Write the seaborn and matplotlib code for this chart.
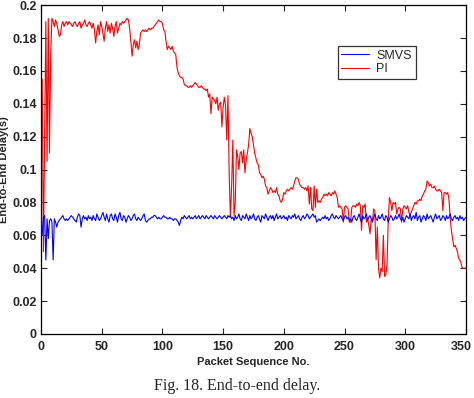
import numpy as np
import pandas as pd
import matplotlib
matplotlib.use("Agg")
import matplotlib.pyplot as plt
import matplotlib.transforms as mtransforms
import seaborn as sns

# packet sequence numbers 0..350
packet_no = list(range(0, 351))

# end-to-end delay (s), PI scheme
pi_delay = [
    0.135, 0.155, 0.050, 0.120, 0.190, 0.105, 0.192, 0.110, 0.170, 0.192,
    0.190, 0.187, 0.191, 0.189, 0.185, 0.181, 0.182, 0.188, 0.190, 0.187,
    0.189, 0.190, 0.188, 0.190, 0.189, 0.188, 0.187, 0.189, 0.190, 0.188,
    0.187, 0.189, 0.190, 0.186, 0.188, 0.189, 0.191, 0.188, 0.187, 0.189,
    0.190, 0.188, 0.186, 0.189, 0.185, 0.177, 0.184, 0.188, 0.182, 0.190,
    0.187, 0.183, 0.178, 0.186, 0.190, 0.184, 0.188, 0.183, 0.189, 0.186,
    0.181, 0.187, 0.190, 0.183, 0.186, 0.189, 0.188, 0.190, 0.189, 0.190,
    0.191, 0.192, 0.191, 0.186, 0.178, 0.169, 0.176, 0.179, 0.174, 0.178,
    0.173, 0.176, 0.183, 0.184, 0.185, 0.184, 0.185, 0.184, 0.185, 0.186,
    0.185, 0.186, 0.186, 0.187, 0.188, 0.189, 0.190, 0.191, 0.190, 0.190,
    0.189, 0.185, 0.184, 0.178, 0.173, 0.175, 0.174, 0.173, 0.175, 0.172,
    0.171, 0.170, 0.162, 0.159, 0.157, 0.156, 0.156, 0.155, 0.152, 0.151,
    0.151, 0.150, 0.150, 0.151, 0.150, 0.151, 0.152, 0.153, 0.152, 0.151,
    0.150, 0.150, 0.151, 0.150, 0.149, 0.149, 0.148, 0.149, 0.144, 0.146,
    0.134, 0.144, 0.143, 0.142, 0.140, 0.144, 0.136, 0.140, 0.141, 0.126,
    0.138, 0.144, 0.139, 0.118, 0.145, 0.097, 0.071, 0.090, 0.118, 0.072,
    0.080, 0.112, 0.108, 0.100, 0.110, 0.111, 0.104, 0.112, 0.098, 0.106,
    0.110, 0.115, 0.125, 0.122, 0.120, 0.115, 0.110, 0.107, 0.104, 0.103,
    0.098, 0.097, 0.095, 0.096, 0.094, 0.090, 0.089, 0.085, 0.087, 0.089,
    0.088, 0.086, 0.087, 0.086, 0.089, 0.085, 0.084, 0.081, 0.080, 0.082,
    0.086, 0.085, 0.087, 0.088, 0.087, 0.088, 0.089, 0.088, 0.090, 0.093,
    0.095, 0.095, 0.094, 0.091, 0.090, 0.089, 0.089, 0.088, 0.089, 0.087,
    0.090, 0.079, 0.089, 0.076, 0.075, 0.090, 0.077, 0.088, 0.080, 0.081,
    0.080, 0.082, 0.083, 0.085, 0.084, 0.085, 0.084, 0.086, 0.085, 0.084,
    0.086, 0.085, 0.087, 0.085, 0.083, 0.077, 0.078, 0.077, 0.076, 0.068,
    0.077, 0.078, 0.077, 0.076, 0.068, 0.068, 0.077, 0.078, 0.078, 0.077,
    0.079, 0.078, 0.080, 0.078, 0.063, 0.078, 0.077, 0.079, 0.068, 0.070,
    0.066, 0.061, 0.070, 0.069, 0.076, 0.075, 0.045, 0.065, 0.040, 0.034,
    0.040, 0.038, 0.060, 0.035, 0.036, 0.042, 0.069, 0.083, 0.080, 0.075,
    0.080, 0.079, 0.080, 0.073, 0.076, 0.077, 0.076, 0.068, 0.076, 0.078,
    0.077, 0.076, 0.078, 0.074, 0.072, 0.074, 0.076, 0.078, 0.080, 0.079,
    0.081, 0.081, 0.082, 0.081, 0.084, 0.085, 0.087, 0.088, 0.093, 0.092,
    0.090, 0.091, 0.089, 0.089, 0.090, 0.088, 0.087, 0.087, 0.088, 0.087,
    0.086, 0.075, 0.086, 0.086, 0.085, 0.086, 0.082, 0.071, 0.063, 0.058,
    0.053, 0.054, 0.052, 0.050, 0.046, 0.045, 0.043, 0.040, 0.040, 0.040,
    0.040,
]

# end-to-end delay (s), SMVS scheme
smvs_delay = [
    0.073, 0.060, 0.071, 0.072, 0.045, 0.070, 0.058, 0.069, 0.070, 0.068,
    0.045, 0.070, 0.068, 0.065, 0.068, 0.069, 0.070, 0.071, 0.072, 0.070,
    0.069, 0.070, 0.069, 0.070, 0.071, 0.072, 0.071, 0.070, 0.069, 0.068,
    0.071, 0.073, 0.072, 0.065, 0.070, 0.072, 0.070, 0.071, 0.069, 0.072,
    0.070, 0.071, 0.069, 0.072, 0.070, 0.069, 0.073, 0.071, 0.069, 0.070,
    0.072, 0.074, 0.071, 0.069, 0.073, 0.070, 0.068, 0.072, 0.073, 0.070,
    0.069, 0.073, 0.071, 0.068, 0.072, 0.074, 0.070, 0.069, 0.072, 0.071,
    0.068, 0.070, 0.072, 0.071, 0.069, 0.070, 0.072, 0.073, 0.070, 0.069,
    0.071, 0.070, 0.069, 0.070, 0.072, 0.073, 0.069, 0.068, 0.069, 0.070,
    0.070, 0.071, 0.071, 0.072, 0.072, 0.071, 0.070, 0.071, 0.070, 0.070,
    0.071, 0.072, 0.071, 0.071, 0.070, 0.070, 0.071, 0.070, 0.070, 0.069,
    0.070, 0.070, 0.069, 0.068, 0.066, 0.069, 0.071, 0.070, 0.072, 0.071,
    0.070, 0.071, 0.072, 0.070, 0.071, 0.070, 0.071, 0.072, 0.070, 0.071,
    0.072, 0.070, 0.071, 0.072, 0.071, 0.070, 0.072, 0.071, 0.070, 0.071,
    0.072, 0.071, 0.070, 0.072, 0.071, 0.070, 0.071, 0.072, 0.071, 0.070,
    0.071, 0.072, 0.071, 0.070, 0.072, 0.071, 0.072, 0.070, 0.071, 0.069,
    0.072, 0.070, 0.071, 0.073, 0.070, 0.069, 0.072, 0.071, 0.070, 0.073,
    0.071, 0.069, 0.072, 0.070, 0.071, 0.073, 0.070, 0.069, 0.071, 0.072,
    0.070, 0.068, 0.072, 0.071, 0.070, 0.073, 0.071, 0.069, 0.071, 0.072,
    0.070, 0.072, 0.069, 0.071, 0.073, 0.070, 0.071, 0.072, 0.070, 0.071,
    0.072, 0.070, 0.071, 0.069, 0.072, 0.071, 0.070, 0.072, 0.071, 0.073,
    0.070, 0.071, 0.072, 0.070, 0.069, 0.071, 0.072, 0.070, 0.071, 0.073,
    0.072, 0.070, 0.071, 0.072, 0.073, 0.071, 0.072, 0.068, 0.069, 0.070,
    0.069, 0.070, 0.071, 0.070, 0.072, 0.070, 0.071, 0.069, 0.070, 0.072,
    0.073, 0.071, 0.070, 0.072, 0.071, 0.070, 0.071, 0.072, 0.070, 0.069,
    0.071, 0.072, 0.070, 0.071, 0.069, 0.070, 0.068, 0.071, 0.072, 0.070,
    0.069, 0.071, 0.073, 0.070, 0.068, 0.072, 0.070, 0.071, 0.073, 0.069,
    0.071, 0.072, 0.070, 0.068, 0.071, 0.073, 0.070, 0.069, 0.072, 0.070,
    0.071, 0.073, 0.070, 0.069, 0.072, 0.071, 0.068, 0.070, 0.072, 0.071,
    0.069, 0.070, 0.072, 0.070, 0.071, 0.073, 0.070, 0.069, 0.071, 0.068,
    0.070, 0.072, 0.071, 0.070, 0.073, 0.069, 0.071, 0.072, 0.070, 0.074,
    0.069, 0.071, 0.072, 0.068, 0.070, 0.072, 0.071, 0.069, 0.073, 0.070,
    0.071, 0.072, 0.070, 0.068, 0.071, 0.073, 0.070, 0.071, 0.072, 0.069,
    0.070, 0.072, 0.071, 0.069, 0.072, 0.070, 0.071, 0.073, 0.070, 0.069,
    0.071, 0.072, 0.070, 0.071, 0.069, 0.072, 0.070, 0.071, 0.069, 0.070,
    0.071,
]

x_ticks = [0, 50, 100, 150, 200, 250, 300, 350]
y_ticks = [0, 0.02, 0.04, 0.06, 0.08, 0.1, 0.12, 0.14, 0.16, 0.18, 0.2]
y_ticklabels = ['0', '0.02', '0.04', '0.06', '0.08', '0.1', '0.12', '0.14',
                '0.16', '0.18', '0.2']

sns.set_style("ticks")
plt.rcParams['font.family'] = ['Liberation Sans', 'DejaVu Sans']

df = pd.DataFrame({'packet': packet_no, 'SMVS': smvs_delay, 'PI': pi_delay})

fig = plt.figure(figsize=(4.74, 3.98), dpi=100)
ax = fig.add_axes([0.0865, 0.161, 0.8965, 0.826])

sns.lineplot(data=df, x='packet', y='SMVS', color='#0000ff', linewidth=0.8,
             label='SMVS', ax=ax, zorder=3)
sns.lineplot(data=df, x='packet', y='PI', color='#ff0000', linewidth=0.8,
             label='PI', ax=ax, zorder=2)

ax.set_xlim(0, 350)
ax.set_ylim(0, 0.2)
ax.set_xticks(x_ticks)
ax.set_yticks(y_ticks)
ax.set_yticklabels(y_ticklabels)
ax.tick_params(direction='in', length=4, width=0.8, top=True, right=True,
               labelsize=9, pad=3)
ax.tick_params(axis='x', pad=5)
for lab in ax.get_xticklabels() + ax.get_yticklabels():
    lab.set_fontweight('bold')
for sp in ax.spines.values():
    sp.set_linewidth(0.9)
    sp.set_color('black')

# last x label sits against the right edge, as in the original
last = ax.get_xticklabels()[-1]
last.set_transform(last.get_transform() +
                   mtransforms.ScaledTranslation(-0.05, 0, fig.dpi_scale_trans))

ax.set_xlabel('Packet Sequence No.', fontsize=8, fontweight='bold', labelpad=3)
ax.set_ylabel('End-to-End Delay(s)', fontsize=8, fontweight='bold', labelpad=2)

leg = ax.legend(loc='upper left', bbox_to_anchor=(0.698, 0.876), fontsize=9,
                frameon=True, fancybox=False, edgecolor='black',
                handlelength=2.2, borderpad=0.3, labelspacing=0.1,
                handletextpad=0.6, borderaxespad=0)
leg.get_frame().set_linewidth(0.9)

fig.text(0.5, 0.03, 'Fig. 18. End-to-end delay.', ha='center', va='center',
         fontsize=11.5, family=['Liberation Serif', 'DejaVu Serif'])

plt.savefig('out.png', dpi=100)
plt.close()
